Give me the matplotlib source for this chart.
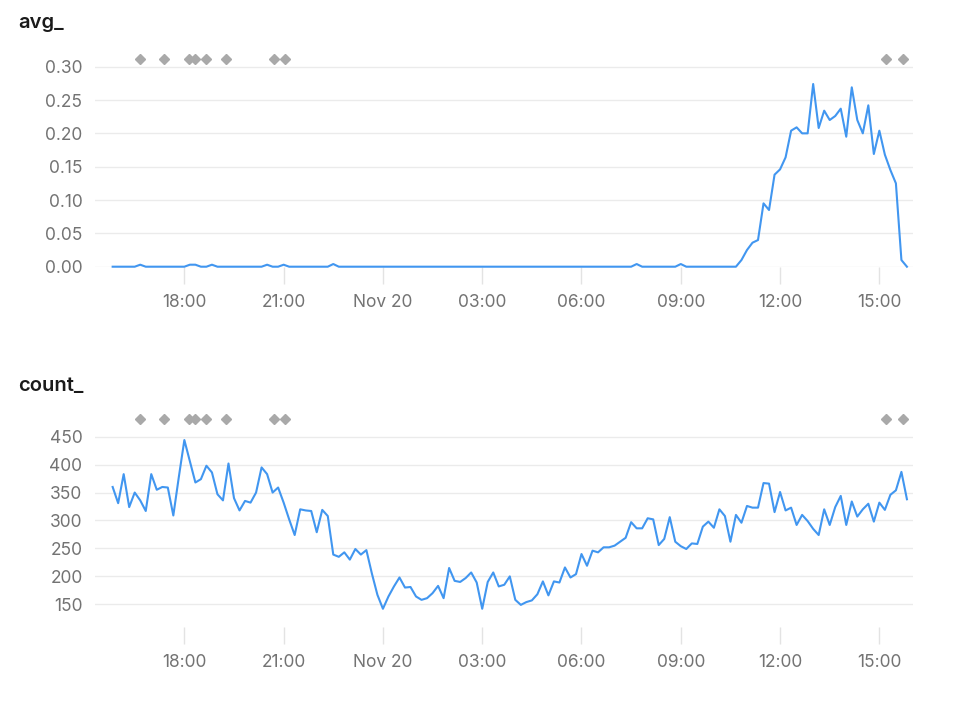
import matplotlib
matplotlib.use("Agg")
import matplotlib.pyplot as plt
import matplotlib.dates as mdates
import pandas as pd
import numpy as np

plt.rcParams['font.family'] = ['Inter', 'DejaVu Sans']

start_time = "2023-11-19 15:50"
n_points = 145

count_values = [
    360, 331, 383, 324, 350, 336, 317, 383, 355, 360,
    359, 309, 378, 444, 406, 368, 374, 398, 386, 347,
    336, 402, 340, 318, 335, 332, 350, 395, 383, 350,
    359, 332, 302, 274, 320, 318, 317, 279, 319, 308,
    239, 235, 243, 230, 249, 239, 247, 205, 167, 142,
    164, 182, 198, 180, 181, 164, 158, 161, 170, 183,
    161, 215, 192, 190, 197, 207, 189, 142, 190, 207,
    182, 185, 200, 158, 149, 154, 157, 168, 191, 166,
    191, 189, 216, 198, 204, 240, 219, 246, 243, 252,
    252, 255, 262, 269, 297, 286, 286, 304, 302, 256,
    267, 306, 262, 254, 249, 259, 258, 289, 298, 287,
    320, 308, 262, 310, 296, 326, 323, 323, 367, 366,
    315, 351, 318, 323, 292, 310, 299, 285, 274, 320,
    292, 324, 344, 292, 334, 307, 320, 330, 298, 332,
    319, 346, 354, 387, 338,
]

avg_values = [
    0, 0, 0, 0, 0, 0.003, 0, 0, 0, 0,
    0, 0, 0, 0, 0.003, 0.003, 0, 0, 0.003, 0,
    0, 0, 0, 0, 0, 0, 0, 0, 0.003, 0,
    0, 0.003, 0, 0, 0, 0, 0, 0, 0, 0,
    0.004, 0, 0, 0, 0, 0, 0, 0, 0, 0,
    0, 0, 0, 0, 0, 0, 0, 0, 0, 0,
    0, 0, 0, 0, 0, 0, 0, 0, 0, 0,
    0, 0, 0, 0, 0, 0, 0, 0, 0, 0,
    0, 0, 0, 0, 0, 0, 0, 0, 0, 0,
    0, 0, 0, 0, 0, 0.004, 0, 0, 0, 0,
    0, 0, 0, 0.004, 0, 0, 0, 0, 0, 0,
    0, 0, 0, 0, 0.010, 0.025, 0.036, 0.040, 0.095, 0.085,
    0.138, 0.146, 0.164, 0.204, 0.209, 0.200, 0.200, 0.274, 0.208, 0.234,
    0.220, 0.226, 0.237, 0.195, 0.269, 0.220, 0.200, 0.242, 0.169, 0.204,
    0.168, 0.145, 0.125, 0.010, 0.0,
]

event_times = [
    "2023-11-19 16:40", "2023-11-19 17:24", "2023-11-19 18:09", "2023-11-19 18:19",
    "2023-11-19 18:40", "2023-11-19 19:16", "2023-11-19 20:43", "2023-11-19 21:02",
    "2023-11-20 15:12", "2023-11-20 15:43",
]

tick_times = [
    "2023-11-19 18:00", "2023-11-19 21:00", "2023-11-20 00:00", "2023-11-20 03:00",
    "2023-11-20 06:00", "2023-11-20 09:00", "2023-11-20 12:00", "2023-11-20 15:00",
]
tick_labels = ["18:00", "21:00", "Nov 20", "03:00", "06:00", "09:00", "12:00", "15:00"]

avg_yticks = [0.00, 0.05, 0.10, 0.15, 0.20, 0.25, 0.30]
avg_ylabels = ["0.00", "0.05", "0.10", "0.15", "0.20", "0.25", "0.30"]
count_yticks = [150, 200, 250, 300, 350, 400, 450]

times = pd.date_range(start_time, periods=n_points, freq="10min")
events = pd.to_datetime(event_times)
ticks = pd.to_datetime(tick_times)

LINE = "#4196f0"
GRID = "#ebebeb"
TICKC = "#e3e3e3"
LABC = "#737373"
DIAM = "#a9a9a9"

fig = plt.figure(figsize=(9.74, 7.02), dpi=100)

xmin = pd.Timestamp("2023-11-19 15:18")
xmax = pd.Timestamp("2023-11-20 16:01")

def style(ax, yticks, ylabels, ylim, event_y):
    ax.set_xlim(xmin, xmax)
    ax.set_ylim(*ylim)
    for s in ax.spines.values():
        s.set_visible(False)
    ax.set_yticks(yticks)
    ax.set_yticklabels(ylabels)
    ax.yaxis.grid(True, color=GRID, linewidth=1.0)
    ax.set_axisbelow(True)
    ax.set_xticks(ticks)
    ax.set_xticklabels(tick_labels)
    ax.tick_params(axis="y", length=0, pad=9, labelsize=12.5, labelcolor=LABC)
    ax.tick_params(axis="x", length=12.5, width=1.0, color=TICKC, direction="out",
                   pad=7, labelsize=12.5, labelcolor=LABC)
    ax.plot(events, [event_y] * len(events), linestyle="none", marker="D",
            markersize=5.0, color=DIAM, clip_on=False, zorder=3)

ax1 = fig.add_axes([95 / 974, 1 - 266.7 / 702, 818 / 974, (266.7 - 50) / 702])
ax1.plot(times, avg_values, color=LINE, linewidth=1.5, clip_on=False, zorder=4)
style(ax1, avg_yticks, avg_ylabels, (0, 0.325), 0.311)

ax2 = fig.add_axes([95 / 974, 1 - 627 / 702, 818 / 974, (627 - 405) / 702])
ax2.plot(times, count_values, color=LINE, linewidth=1.5, clip_on=False, zorder=4)
style(ax2, count_yticks, [str(v) for v in count_yticks], (109.4, 506.7), 481.7)

fig.text(18 / 974, 1 - 23 / 702, "avg_", fontsize=14.5, fontweight="semibold",
         color="#1a1a1a", ha="left", va="center")
fig.text(18 / 974, 1 - 386 / 702, "count_", fontsize=14.5, fontweight="semibold",
         color="#1a1a1a", ha="left", va="center")

fig.savefig("out.png", dpi=100)
